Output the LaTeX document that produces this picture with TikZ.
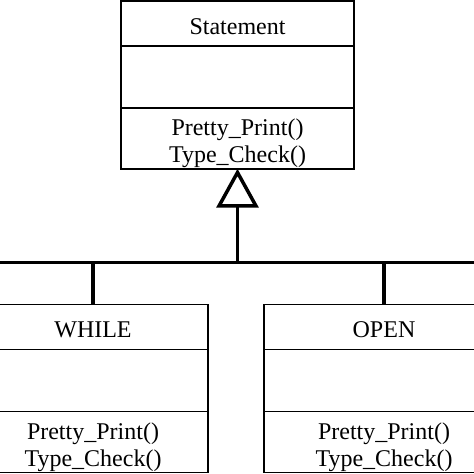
\documentclass[tikz,border=0pt]{standalone}
\usepackage{fontspec}
\setmainfont{Liberation Serif}
\usetikzlibrary{positioning}

\begin{document}
\begin{tikzpicture}[x=1pt,y=1pt]
		\tikzstyle{part}=[draw,rectangle,line width=1.5pt,inner sep=0pt,outer sep=0pt,align=center,font=\fontsize{24}{27}\selectfont]
		\tikzstyle{namepart}=[part,minimum height=45pt,text height=22pt,text depth=0pt]
		\tikzstyle{attrpart}=[part,minimum height=62pt]
		\tikzstyle{opspart}=[part,minimum height=61pt,text height=54pt,text depth=6pt]
		\tikzstyle{bus}=[line width=3.5pt]
		\tikzstyle{hat}=[line width=3.5pt]
		
		\useasboundingbox (0,0) rectangle (474,474);
		
		% superclass
		\node[namepart,minimum width=233pt] (stmt-name) at (237.5,450.5) {Statement};
		\node[attrpart,minimum width=233pt,below=0pt of stmt-name] (stmt-attr) {};
		\node[opspart,minimum width=233pt,below=0pt of stmt-attr] (stmt-ops) {Pretty\_Print()\\Type\_Check()};
		
		% subclasses
		\node[namepart,minimum width=230pt] (while-name) at (93,147) {WHILE};
		\node[attrpart,minimum width=230pt,below=0pt of while-name] (while-attr) {};
		\node[opspart,minimum width=230pt,below=0pt of while-attr] (while-ops) {Pretty\_Print()\\Type\_Check()};
		
		\node[namepart,minimum width=240pt] (open-name) at (384,147) {OPEN};
		\node[attrpart,minimum width=240pt,below=0pt of open-name] (open-attr) {};
		\node[opspart,minimum width=240pt,below=0pt of open-attr] (open-ops) {Pretty\_Print()\\Type\_Check()};
		
		% inheritance
		\coordinate (bus-l) at (0,211.5);
		\coordinate (bus-r) at (474,211.5);
		\coordinate[below=3.5pt of stmt-ops.south] (tri-top);
		\coordinate[below=37pt of stmt-ops.south] (tri-base);
		\draw[hat] (tri-top) -- ([xshift=-18.5pt]tri-base) -- ([xshift=18.5pt]tri-base) -- cycle;
		\draw[bus] (tri-base) -- (tri-base |- bus-l);
		\draw[bus] (bus-l) -- (bus-r);
		\draw[bus] (while-name.north) -- (while-name.north |- bus-l);
		\draw[bus] (open-name.north) -- (open-name.north |- bus-l);
		\end{tikzpicture}
\end{document}
